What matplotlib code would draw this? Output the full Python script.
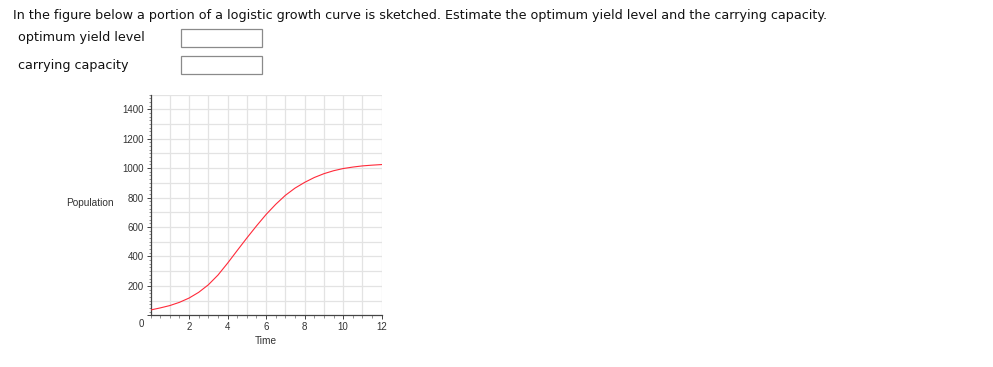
import numpy as np
import matplotlib
matplotlib.use("Agg")
import matplotlib.pyplot as plt
from matplotlib.patches import Rectangle
from matplotlib.transforms import ScaledTranslation

# values
time = [0, 0.5, 1, 1.5, 2, 2.5, 3, 3.5, 4, 4.5, 5, 5.5, 6,
        6.5, 7, 7.5, 8, 8.5, 9, 9.5, 10, 10.5, 11, 11.5, 12]
population = [36, 50, 66, 88, 117, 156, 207, 273, 354, 440, 525, 607, 685,
              754, 815, 864, 903, 936, 962, 982, 997, 1007, 1015, 1020, 1024]

x_ticks = [2, 4, 6, 8, 10, 12]
y_ticks = [0, 200, 400, 600, 800, 1000, 1200, 1400]

question = ("In the figure below a portion of a logistic growth curve is sketched. "
            "Estimate the optimum yield level and the carrying capacity.")
fields = ["optimum yield level", "carrying capacity"]

W, H = 993, 367
fig = plt.figure(figsize=(W / 100, H / 100), dpi=100)
fig.patch.set_facecolor("white")

def fx(px):
    return px / W

def fy(py):
    return 1 - py / H

# question text and answer boxes
fig.text(fx(13), fy(15), question, fontsize=9.2, family="DejaVu Sans",
         color="#111111", va="center", ha="left")
for i, label in enumerate(fields):
    yc = 37.5 + i * 27.5
    fig.text(fx(18), fy(yc), label, fontsize=9.2, family="DejaVu Sans",
             color="#111111", va="center", ha="left")
    fig.patches.append(Rectangle((fx(180.5), fy(yc + 9)), fx(81), 18 / H,
                                 transform=fig.transFigure, fill=False,
                                 edgecolor="#8a8a8a", lw=0.9))

# the plot
left, right, top, bottom = 150.5, 381.7, 94.5, 315.3
ax = fig.add_axes([fx(left), fy(bottom), fx(right - left), (bottom - top) / H])
ax.set_xlim(0, 12)
ax.set_ylim(0, 1500)

for v in np.arange(1, 13, 1):
    ax.axvline(v, color="#e3e3e3", lw=0.9, zorder=0)
for v in np.arange(100, 1501, 100):
    ax.axhline(v, color="#e3e3e3", lw=0.9, zorder=0)

ax.plot(time, population, color="#ff2a3a", lw=0.8, zorder=3)

for s in ["top", "right"]:
    ax.spines[s].set_visible(False)
for s in ["left", "bottom"]:
    ax.spines[s].set_color("#444444")
    ax.spines[s].set_linewidth(0.9)

ax.set_xticks(x_ticks)
ax.set_yticks(y_ticks)
ax.set_xticks(np.arange(0, 12.01, 0.5), minor=True)
ax.set_yticks(np.arange(0, 1501, 25), minor=True)
ax.tick_params(which="major", length=3, width=0.7, color="#444444",
               labelsize=7, labelcolor="#333333", pad=2)
ax.tick_params(which="minor", length=1.8, width=0.5, color="#666666")
for lab in ax.get_xticklabels() + ax.get_yticklabels():
    lab.set_family("Liberation Sans")

# the origin label sits a little below the axis
zero = ax.get_yticklabels()[0]
zero.set_transform(zero.get_transform() + ScaledTranslation(0, -5.5 / 72, fig.dpi_scale_trans))

ax.set_xlabel("Time", fontsize=7.3, family="Liberation Sans", color="#333333", labelpad=3)
fig.text(fx(90), fy(203.5), "Population", fontsize=7.3, family="Liberation Sans",
         color="#333333", ha="center", va="center")

fig.savefig("out.png", dpi=100, facecolor="white")
